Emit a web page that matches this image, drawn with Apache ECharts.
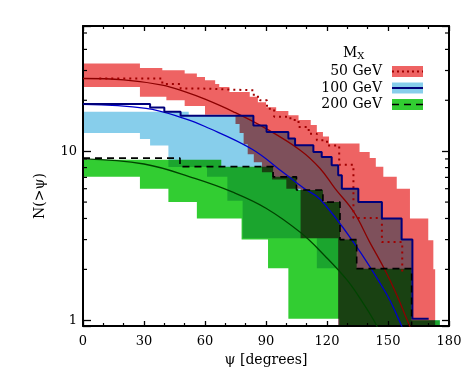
<!DOCTYPE html>
<html><head><meta charset="utf-8">
<script src="https://cdn.jsdelivr.net/npm/echarts@6/dist/echarts.min.js"></script>
<style>html,body{margin:0;padding:0;background:#fff}#c{width:474px;height:379px}</style>
</head><body><div id="c"></div>
<script>
// ---------- data ----------
const xTickValues = [0, 30, 60, 90, 120, 150, 180];
const yTickLabels = [1, 10];
const yMinorTicks = [2, 3, 4, 5, 6, 7, 8, 9, 20, 30, 40, 50];
const legendTitle = 'M';
const legendSub = 'X';
const legendLabels = ['50 GeV', '100 GeV', '200 GeV'];

// step boundaries: [psi_start, N] ; last entry gives the end position
const band50Upper = [[0,33],[28,31],[39,30.1],[50,28.8],[56,27.5],[60,26.3],[65,25],[67,24],[72,22.4],[82,21],[86,19.5],[90,18.2],[95,17.3],[101,16.3],[106,15.3],[112,14.3],[115,13.0],[118,12.2],[121,11.1],[136,9.9],[141,9.1],[144,8.1],[147.7,7.05],[154.3,6.0],[160.8,4.0],[169.8,2.97],[172.3,2.0],[173.2,2.0]];
const band50Lower = [[0,24],[28,21],[41,20],[50,18.5],[60,16.4],[75,14.5],[77,12.8],[79,11],[81,9.6],[84,8.6],[88,7.5],[93,6.8],[100,6.0],[107,3.06],[125.5,0.925],[173.2,0.925]];
const band100Upper = [[0,17.1],[52,16.2],[83.8,14.2],[90.3,13.0],[101,11.9],[104.3,10.85],[113.3,9.9],[117.4,9.25],[122.3,8.26],[125.5,7.2],[127.3,6.0],[135.4,5.0],[147,4.0],[156.7,3.0],[162,1.0],[175.5,1.0]];
const band100Lower = [[0,12.8],[28,11.8],[33,10.8],[42,8.05],[61,7.05],[71,5.1],[78.5,3.06],[115,2.03],[125.5,0.925],[175.5,0.925]];
const band200Upper = [[0,8.9],[68,8.1],[93.5,7.05],[105,5.9],[118,5.0],[126.4,3.0],[134.6,2.02],[161.6,1.0],[175.5,1.0]];
const band200Lower = [[0,7.05],[28,6.0],[42,5.0],[56,4.0],[78,3.0],[91,2.03],[101,1.02],[126,0.925],[175.5,0.925]];

const step50 = [[8,26.9],[39,25],[48,23.5],[57,22.9],[84,21],[87,20],[90.5,17.8],[94,16],[102,15.3],[106,13.9],[111,12.7],[115,11.6],[120,10.8],[126,8.3],[133,4.03],[147,2.9],[157,1.9]];
const step100 = [[0,19.0],[33,18.1],[40,17.1],[48,16.2],[83.8,14.2],[90.3,13.0],[101,11.9],[104.3,10.85],[113.3,9.9],[117.4,9.25],[122.3,8.26],[125.5,7.2],[127.3,6.0],[135.4,5.0],[147,4.0],[156.7,3.0],[162,1.02],[170,1.02]];
const step200 = [[0,9.1],[47.7,8.1],[93.5,7.05],[105,5.9],[118,5.0],[126.4,3.0],[134.6,2.02],[161.6,2.02],[161.6,0.925]];

const curve50 = [[0,26.9],[20,26.4],[39,24.6],[50,22.5],[60,20.3],[74,17.1],[90,13.6],[107,10.1],[116.6,7.9],[124,6.0],[133,4.4],[141,2.9],[149,1.93],[155,1.35],[159,1.03],[162,0.85]];
const curve100 = [[0,18.9],[31,17.9],[50,15.6],[60,14.0],[83,10.3],[99,7.4],[109,6.0],[116.6,5.2],[133,2.9],[149,1.45],[155,1.03],[158,0.85]];
const curve200 = [[0,9.0],[30,8.4],[55,6.9],[74,5.7],[90,4.6],[107,3.3],[119,2.4],[130,1.72],[138,1.25],[143,1.0],[146,0.85]];

// ---------- styles ----------
const C50 = '#EE6363', C100 = '#87CEEB', C200 = '#32CD32';
const FONT = 'DejaVu Serif';
const YMIN = 0.925, YMAX = 55;

function bandSeries(upper, lower, color) {
  return {
    type: 'custom', coordinateSystem: 'cartesian2d', silent: true, z: 1,
    blendMode: 'multiply',
    data: [[0, 1]],
    renderItem: function (params, api) {
      const pts = [];
      for (let i = 0; i < upper.length - 1; i++) {
        pts.push(api.coord([upper[i][0], upper[i][1]]));
        pts.push(api.coord([upper[i + 1][0], upper[i][1]]));
      }
      for (let i = lower.length - 2; i >= 0; i--) {
        pts.push(api.coord([lower[i + 1][0], lower[i][1]]));
        pts.push(api.coord([lower[i][0], lower[i][1]]));
      }
      return { type: 'polygon', shape: { points: pts }, style: { fill: color } };
    }
  };
}
function stepSeries(data, color, type, width) {
  return { type: 'line', step: 'end', data: data, symbol: 'none', silent: true, z: 5,
    lineStyle: { color: color, width: width, type: type } };
}
function curveSeries(data, color) {
  return { type: 'line', smooth: 0.4, data: data, symbol: 'none', silent: true, z: 4,
    lineStyle: { color: color, width: 1.3 } };
}

const chart = echarts.init(document.getElementById('c'), null, { renderer: 'canvas' });
const axisBase = {
  axisLine: { show: true, onZero: false, lineStyle: { color: '#000', width: 2 } },
  splitLine: { show: false }
};
const option = {
  backgroundColor: '#fff',
  animation: false,
  grid: { left: 83, right: 25, top: 26, bottom: 53, containLabel: false },
  xAxis: [
    Object.assign({}, axisBase, {
      type: 'value', min: 0, max: 180, interval: 30, position: 'bottom',
      axisTick: { show: true, inside: true, length: 5, lineStyle: { color: '#000', width: 1.3 } },
      minorTick: { show: true, splitNumber: 3, length: 3, lineStyle: { color: '#000', width: 1.2 } },
      axisLabel: { color: '#000', fontFamily: FONT, fontSize: 13, margin: 9,
        formatter: v => xTickValues.indexOf(v) >= 0 ? String(v) : '' },
      name: 'ψ [degrees]', nameLocation: 'middle', nameGap: 26,
      nameTextStyle: { color: '#000', fontFamily: FONT, fontSize: 14 }
    }),
    Object.assign({}, axisBase, {
      type: 'value', min: 0, max: 180, interval: 30, position: 'top',
      axisTick: { show: true, inside: true, length: 5, lineStyle: { color: '#000', width: 1.3 } },
      minorTick: { show: true, splitNumber: 3, length: 3, lineStyle: { color: '#000', width: 1.2 } },
      axisLabel: { show: false }
    })
  ],
  yAxis: [
    Object.assign({}, axisBase, {
      type: 'log', logBase: 10, min: YMIN, max: YMAX, position: 'left',
      axisTick: { show: true, inside: true, length: 8, lineStyle: { color: '#000', width: 1.3 } },
      axisLabel: { color: '#000', fontFamily: FONT, fontSize: 13, margin: 6,
        formatter: v => yTickLabels.some(t => Math.abs(t - v) < 1e-6) ? String(Math.round(v)) : '' },
      name: 'N(>ψ)', nameLocation: 'middle', nameGap: 36, nameRotate: 90,
      nameTextStyle: { color: '#000', fontFamily: FONT, fontSize: 14, padding: [0, 40, 0, 0] }
    }),
    Object.assign({}, axisBase, {
      type: 'log', logBase: 10, min: YMIN, max: YMAX, position: 'right',
      axisTick: { show: true, inside: true, length: 7, lineStyle: { color: '#000', width: 1.3 } },
      axisLabel: { show: false }
    })
  ],
  series: [
    bandSeries(band50Upper, band50Lower, C50),
    bandSeries(band100Upper, band100Lower, C100),
    bandSeries(band200Upper, band200Lower, C200),
    curveSeries(curve50, '#8B0000'),
    curveSeries(curve100, '#0000CD'),
    curveSeries(curve200, '#004400'),
    stepSeries(step50, '#A00000', [2, 4], 2),
    stepSeries(step100, '#00007A', 'solid', 2),
    stepSeries(step200, '#000000', [7, 5], 1.6),
    {
      type: 'custom', silent: true, z: 6,
      data: yMinorTicks.map(v => [0, v]),
      renderItem: function (params, api) {
        const v = api.value(1);
        const l = api.coord([0, v]), r = api.coord([180, v]);
        return { type: 'group', children: [
          { type: 'line', shape: { x1: l[0], y1: l[1], x2: l[0] + 4, y2: l[1] }, style: { stroke: '#000', lineWidth: 1.2 } },
          { type: 'line', shape: { x1: r[0] - 4, y1: r[1], x2: r[0], y2: r[1] }, style: { stroke: '#000', lineWidth: 1.2 } }
        ] };
      }
    }
  ]
};
chart.setOption(option);

// legend (drawn as graphic)
const legCols = [C50, C100, C200];
const legLines = [{ c: '#A00000', d: [2, 3], w: 2 }, { c: '#00007A', d: null, w: 2 }, { c: '#000', d: [7, 5], w: 1.6 }];
const rowsY = [71.5, 88, 104.5];
const g = [{
  type: 'text', left: 343, top: 46, z: 10,
  style: { text: '{a|' + legendTitle + '}{b|' + legendSub + '}', fill: '#000',
    rich: { a: { fontFamily: FONT, fontSize: 14, fill: '#000' }, b: { fontFamily: FONT, fontSize: 10, fill: '#000', padding: [6, 0, 0, 0] } } }
}];
legendLabels.forEach((lab, i) => {
  g.push({ type: 'text', z: 10, x: 382, y: rowsY[i], style: { text: lab, fill: '#000', font: '14px "' + FONT + '"', align: 'right', verticalAlign: 'middle' } });
  g.push({ type: 'rect', z: 10, shape: { x: 392, y: rowsY[i] - 5.5, width: 31, height: 11 }, style: { fill: legCols[i] } });
  g.push({ type: 'line', z: 11, shape: { x1: 392, y1: rowsY[i], x2: 423, y2: rowsY[i] }, style: { stroke: legLines[i].c, lineWidth: legLines[i].w, lineDash: legLines[i].d } });
});
chart.setOption({ graphic: g });
</script></body></html>
